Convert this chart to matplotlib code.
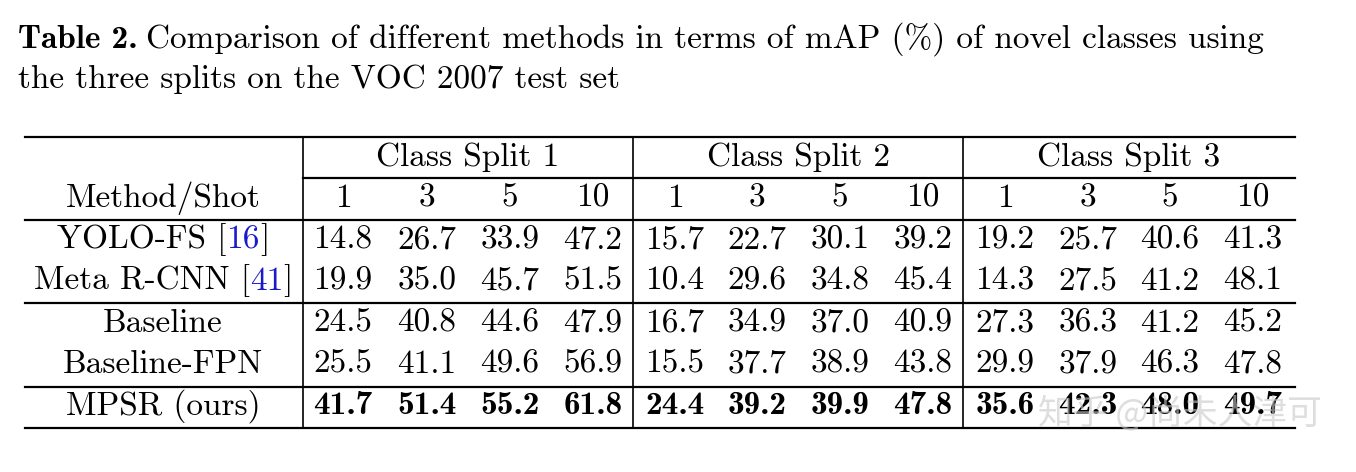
import matplotlib
matplotlib.use("Agg")
import matplotlib.pyplot as plt

# data
splits = ["Class Split 1", "Class Split 2", "Class Split 3"]
shots = ["1", "3", "5", "10"]
methods = ["YOLO-FS [16]", "Meta R-CNN [41]", "Baseline", "Baseline-FPN", "MPSR (ours)"]
refs = {"YOLO-FS [16]": ("YOLO-FS [", "16", "]"), "Meta R-CNN [41]": ("Meta R-CNN [", "41", "]")}
scores = [
    [14.8, 26.7, 33.9, 47.2, 15.7, 22.7, 30.1, 39.2, 19.2, 25.7, 40.6, 41.3],
    [19.9, 35.0, 45.7, 51.5, 10.4, 29.6, 34.8, 45.4, 14.3, 27.5, 41.2, 48.1],
    [24.5, 40.8, 44.6, 47.9, 16.7, 34.9, 37.0, 40.9, 27.3, 36.3, 41.2, 45.2],
    [25.5, 41.1, 49.6, 56.9, 15.5, 37.7, 38.9, 43.8, 29.9, 37.9, 46.3, 47.8],
    [41.7, 51.4, 55.2, 61.8, 24.4, 39.2, 39.9, 47.8, 35.6, 42.3, 48.0, 49.7],
]

W, H = 1356, 472
fig = plt.figure(figsize=(W / 100, H / 100), dpi=100)
ax = fig.add_axes([0, 0, 1, 1])
ax.set_xlim(0, W)
ax.set_ylim(H, 0)
ax.axis("off")

FS = 24
REG = "cmr10"
BOLD = "cmb10"

# title
fig.canvas.draw()
r = fig.canvas.get_renderer()
t = ax.text(18, 39, "Table 2.", fontsize=FS, family=BOLD, va="center")
bb = t.get_window_extent(r)
x_end = ax.transData.inverted().transform((bb.x1, 0))[0]
ax.text(x_end + 9, 39, "Comparison of different methods in terms of mAP (%) of novel classes using",
        fontsize=FS, family=REG, va="center")
ax.text(18, 79, "the three splits on the VOC 2007 test set", fontsize=FS, family=REG, va="center")

# rules
lw = 1.6
for y in [137, 220, 303, 387, 428]:
    ax.plot([25, 1295], [y, y], color="black", lw=lw)
ax.plot([303, 1295], [178, 178], color="black", lw=lw)
for x in [303, 633, 963]:
    ax.plot([x, x], [137, 428], color="black", lw=1.2)

col_x = [343, 427, 510, 593, 675, 757, 840, 923, 1005, 1088, 1170, 1253]
row_y = [240, 281, 323, 364, 406]
method_x = 163

for i, s in enumerate(splits):
    ax.text(col_x[4 * i] / 2 + col_x[4 * i + 3] / 2, 157, s,
            fontsize=FS, family=REG, ha="center", va="center")
ax.text(method_x, 198, "Method/Shot", fontsize=FS, family=REG, ha="center", va="center")
for j, x in enumerate(col_x):
    ax.text(x, 198, shots[j % 4], fontsize=FS, family=REG, ha="center", va="center")


def pieces(xc, y, parts, colors):
    objs = [ax.text(0, y, p, fontsize=FS, family=REG, va="center", color=c)
            for p, c in zip(parts, colors)]
    widths = [o.get_window_extent(r).width for o in objs]
    x = xc - sum(widths) / 2
    for o, w in zip(objs, widths):
        o.set_x(x)
        x += w


for m, y, vals in zip(methods, row_y, scores):
    if m in refs:
        pieces(method_x, y, refs[m], ["black", "#1a1acc", "black"])
    else:
        ax.text(method_x, y, m, fontsize=FS, family=REG, ha="center", va="center")
    bold = m.startswith("MPSR")
    for x, v in zip(col_x, vals):
        ax.text(x, y, f"{v:.1f}", fontsize=FS, family=BOLD if bold else REG,
                ha="center", va="center")

# watermark
ax.text(1322, 414, "知乎 @尚未人津可", fontsize=25, family=["Noto Sans CJK SC", "DejaVu Sans"],
        ha="right", va="center", color="#c8c8c8", alpha=0.6)

fig.savefig("out.png", dpi=100)
